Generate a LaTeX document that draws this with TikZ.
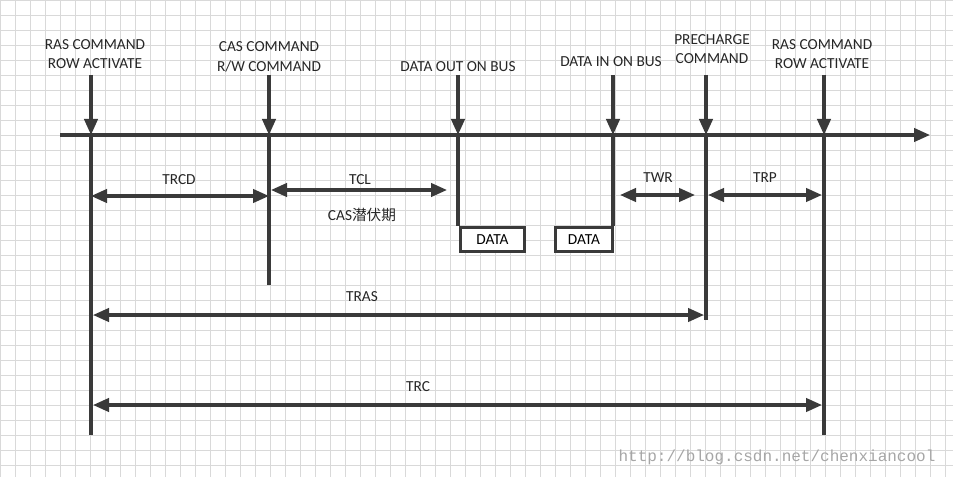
\documentclass[tikz,border=0pt]{standalone}
\usepackage{fontspec}
\setmainfont{Carlito}
\newfontfamily\cjk{Noto Sans CJK SC}
\newfontfamily\wm{Liberation Mono}
\usetikzlibrary{arrows.meta}
\definecolor{ink}{HTML}{3A3A3A}
\begin{document}
\begin{tikzpicture}[x=0.75pt,y=-0.75pt,
  ln/.style={draw=ink,line width=2.4pt},
  ar/.style={ln,-{Triangle[length=12pt,width=10pt]}},
  dar/.style={ln,{Triangle[length=12pt,width=10pt]}-{Triangle[length=12pt,width=10pt]}},
  lb/.style={font=\fontsize{11.5pt}{14.5pt}\selectfont,text=black!85,align=center,inner sep=0pt},
  box/.style={draw=ink,line width=2.2pt,fill=white,font=\fontsize{11.5pt}{12pt}\selectfont,inner sep=0pt,minimum height=18pt}]
\fill[white] (0,0) rectangle (953,477);
\useasboundingbox (0,0) rectangle (953,477);
\foreach \i in {0,15,...,953} \draw[black!15,line width=0.5pt] (\i,0) -- (\i,477);
\foreach \j in {0,15,...,477} \draw[black!15,line width=0.5pt] (0,\j) -- (953,\j);
\foreach \n/\x in {A/91,B/269,C/458,D/613,E/706,F/824}{
  \coordinate (\n t) at (\x,75); \coordinate (\n m) at (\x,135);}
\coordinate (a0) at (60,135); \coordinate (a1) at (930,135);
\coordinate (Ab) at (91,435); \coordinate (Bb) at (269,285);
\coordinate (Cb) at (458,226); \coordinate (Db) at (613,226);
\coordinate (Eb) at (706,320); \coordinate (Fb) at (824,435);
\draw[ar] (a0) -- (a1);
\foreach \n in {A,B,C,D,E,F} \draw[ar] (\n t) -- (\n m);
\draw[ln] (Am) -- (Ab); \draw[ln] (Bm) -- (Bb);
\draw[ln] (Em) -- (Eb); \draw[ln] (Fm) -- (Fb);
\draw[ln] (Cm) -- (Cb); \draw[ln] (Dm) -- (Db);
\node[box,minimum width=48pt,anchor=north west] (d1) at (459,226) {DATA};
\node[box,minimum width=43pt,anchor=north east] (d2) at (614,226) {DATA};
\node[lb] (l1) at (95,54) {RAS COMMAND\\ROW ACTIVATE};
\node[lb] (l2) at (269,57) {CAS COMMAND\\R/W COMMAND};
\node[lb] (l3) at (458,67) {DATA OUT ON BUS};
\node[lb] (l4) at (611,62) {DATA IN ON BUS};
\node[lb] (l5) at (712,49) {PRECHARGE\\COMMAND};
\node[lb] (l6) at (822,54) {RAS COMMAND\\ROW ACTIVATE};
\coordinate (p1) at (91,196); \coordinate (p2) at (269,196);
\coordinate (p3) at (271,190); \coordinate (p4) at (447,190);
\coordinate (p5) at (620,195); \coordinate (p6) at (695,195);
\coordinate (p7) at (708,195); \coordinate (p8) at (822,195);
\coordinate (p9) at (93,315); \coordinate (p10) at (704,315);
\coordinate (p11) at (93,405); \coordinate (p12) at (822,405);
\draw[dar] (p1) -- (p2); \draw[dar] (p3) -- (p4);
\draw[dar] (p5) -- (p6); \draw[dar] (p7) -- (p8);
\draw[dar] (p9) -- (p10); \draw[dar] (p11) -- (p12);
\node[lb] (t1) at (179,180) {TRCD};
\node[lb] (t2) at (360,180) {TCL};
\node[lb] (t3) at (362,215) {CAS{\cjk\fontsize{11pt}{13pt}\selectfont 潜伏期}};
\node[lb] (t4) at (658,178) {TWR};
\node[lb] (t5) at (765,178) {TRP};
\node[lb] (t6) at (362,297) {TRAS};
\node[lb] (t7) at (418,387) {TRC};
\node[lb,text=black!35,font=\wm\fontsize{12pt}{14pt}\selectfont] (w) at (777,457) {http://blog.csdn.net/chenxiancool};
\end{tikzpicture}
\end{document}
